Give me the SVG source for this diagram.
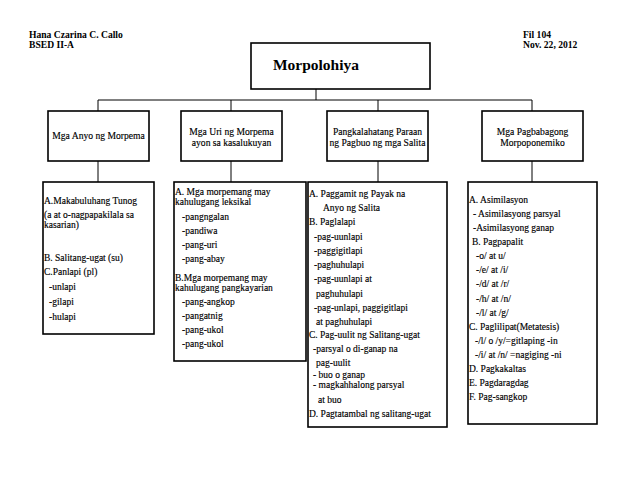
<svg xmlns="http://www.w3.org/2000/svg" width="638" height="493" viewBox="0 0 638 493">
<style>
text{font-family:"Liberation Serif","Times New Roman",serif;fill:#000}
.hd{font-size:9.6px;font-weight:bold}
.ti{font-size:15.5px;font-weight:bold;text-anchor:middle}
.bx{font-size:9.6px;stroke:#000;stroke-width:0.15;text-anchor:middle}
.ct{font-size:9.5px;stroke:#000;stroke-width:0.15}
.box{fill:#fff;stroke:#000;stroke-width:1.6}
.ln{stroke:#000;stroke-width:1;fill:none}
</style>
<rect width="638" height="493" fill="#fff"/>
<g id="header">
<text class="hd" x="29" y="38">Hana Czarina C. Callo</text>
<text class="hd" x="29" y="48">BSED II-A</text>
<text class="hd" x="523" y="38">Fil 104</text>
<text class="hd" x="523" y="48">Nov. 22, 2012</text>
</g>
<g id="connectors">
<path class="ln" d="M316,89V100M98,100H532M98,100V111M231,100V111M378,100V111M532,100V111M98,161V182M231,161V182M378,161V182M532,161V182"/>
</g>
<g id="title">
<rect class="box" x="251" y="43" width="179" height="46"/>
<text class="ti" x="316" y="70">Morpolohiya</text>
</g>
<g id="h1">
<rect class="box" x="48" y="111" width="101" height="50"/>
<text class="bx" x="98.5" y="139">Mga Anyo ng Morpema</text>
</g>
<g id="h2">
<rect class="box" x="181" y="111" width="101" height="50"/>
<text class="bx" x="231.5" y="135">Mga Uri ng Morpema</text>
<text class="bx" x="231.5" y="146">ayon sa kasalukuyan</text>
</g>
<g id="h3">
<rect class="box" x="327" y="111" width="101" height="50"/>
<text class="bx" x="377.5" y="135">Pangkalahatang Paraan</text>
<text class="bx" x="377.5" y="146">ng Pagbuo ng mga Salita</text>
</g>
<g id="h4">
<rect class="box" x="482" y="111" width="101" height="50"/>
<text class="bx" x="532.5" y="135">Mga Pagbabagong</text>
<text class="bx" x="532.5" y="146">Morpoponemiko</text>
</g>
<g id="c1" xml:space="preserve">
<rect class="box" x="43" y="182" width="111" height="152"/>
<text class="ct" x="44" y="204">A.Makabuluhang Tunog</text>
<text class="ct" x="44" y="218">(a at o-nagpapakilala  sa</text>
<text class="ct" x="44" y="228">kasarian)</text>
<text class="ct" x="44" y="261">B. Salitang-ugat  (su)</text>
<text class="ct" x="44" y="275">C.Panlapi (pl)</text>
<text class="ct" x="49" y="290">-unlapi</text>
<text class="ct" x="49" y="305">-gilapi</text>
<text class="ct" x="49" y="320">-hulapi</text>
</g>
<g id="c2" xml:space="preserve">
<rect class="box" x="174" y="182" width="132" height="179"/>
<text class="ct" x="175" y="195">A. Mga morpemang may</text>
<text class="ct" x="175" y="205">kahulugang leksikal</text>
<text class="ct" x="182" y="220">-pangngalan</text>
<text class="ct" x="182" y="234">-pandiwa</text>
<text class="ct" x="182" y="248">-pang-uri</text>
<text class="ct" x="182" y="262">-pang-abay</text>
<text class="ct" x="175" y="281">B.Mga morpemang may</text>
<text class="ct" x="175" y="291">kahulugang pangkayarian</text>
<text class="ct" x="182" y="305">-pang-angkop</text>
<text class="ct" x="182" y="319">-pangatnig</text>
<text class="ct" x="182" y="333">-pang-ukol</text>
<text class="ct" x="182" y="347">-pang-ukol</text>
</g>
<g id="c3" xml:space="preserve">
<rect class="box" x="308" y="182" width="139" height="245"/>
<text class="ct" x="309" y="197">A. Paggamit  ng Payak  na</text>
<text class="ct" x="323" y="211">Anyo ng Salita</text>
<text class="ct" x="309" y="225">B. Paglalapi</text>
<text class="ct" x="314" y="240">-pag-uunlapi</text>
<text class="ct" x="314" y="254">-paggigitlapi</text>
<text class="ct" x="314" y="268">-paghuhulapi</text>
<text class="ct" x="314" y="282">-pag-uunlapi at</text>
<text class="ct" x="316" y="297">paghuhulapi</text>
<text class="ct" x="314" y="311">-pag-unlapi, paggigitlapi</text>
<text class="ct" x="316" y="325">at paghuhulapi</text>
<text class="ct" x="309" y="338">C. Pag-uulit ng Salitang-ugat</text>
<text class="ct" x="313" y="352">-parsyal o di-ganap na</text>
<text class="ct" x="316" y="366">pag-uulit</text>
<text class="ct" x="313" y="378">- buo o ganap</text>
<text class="ct" x="313" y="388">- magkahhalong parsyal</text>
<text class="ct" x="318" y="403">at buo</text>
<text class="ct" x="309" y="417">D. Pagtatambal ng salitang-ugat</text>
</g>
<g id="c4" xml:space="preserve">
<rect class="box" x="468" y="182" width="129" height="242"/>
<text class="ct" x="469" y="203">A. Asimilasyon</text>
<text class="ct" x="473" y="217">- Asimilasyong parsyal</text>
<text class="ct" x="473" y="231">-Asimilasyong ganap</text>
<text class="ct" x="472" y="245">B. Pagpapalit</text>
<text class="ct" x="476" y="259">-o/  at u/</text>
<text class="ct" x="476" y="273">-/e/ at /i/</text>
<text class="ct" x="476" y="287">-/d/  at /r/</text>
<text class="ct" x="476" y="302">-/h/ at /n/</text>
<text class="ct" x="476" y="316">-/l/ at  /g/</text>
<text class="ct" x="469" y="330">C. Paglilipat(Metatesis)</text>
<text class="ct" x="475" y="344">-/l/ o /y/=gitlaping  -in</text>
<text class="ct" x="475" y="358">-/i/ at /n/ =nagiging -ni</text>
<text class="ct" x="469" y="372">D. Pagkakaltas</text>
<text class="ct" x="469" y="386">E. Pagdaragdag</text>
<text class="ct" x="469" y="400">F. Pag-sangkop</text>
</g>
</svg>
